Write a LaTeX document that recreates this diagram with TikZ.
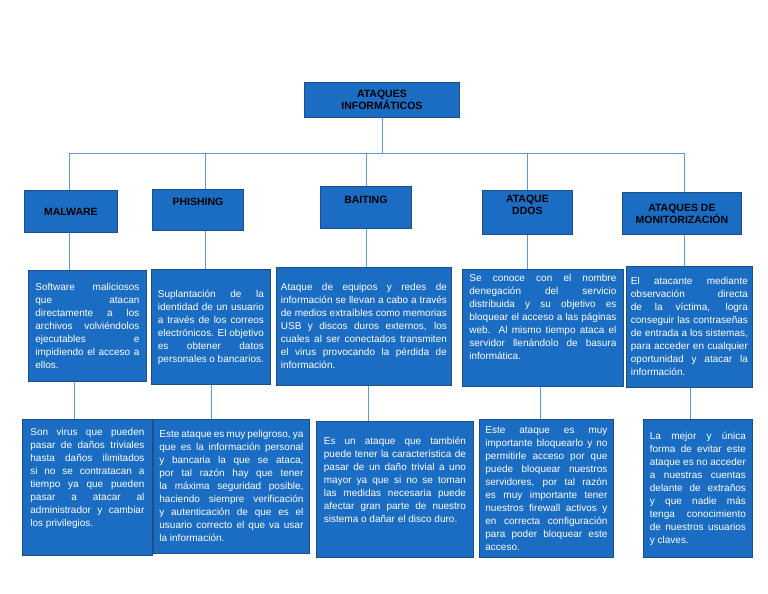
\documentclass[tikz,border=0pt]{standalone}
\usepackage{fontspec}
\setmainfont{Liberation Sans}
\definecolor{boxfill}{HTML}{1A6DC2}
\definecolor{boxdraw}{HTML}{1C4F86}
\definecolor{linec}{HTML}{5C9BD5}
\newcommand{\nohy}{\hyphenpenalty=10000\exhyphenpenalty=10000\emergencystretch=30pt}
\begin{document}
\begin{tikzpicture}[x=1pt,y=-1pt,
  hdr/.style={draw=boxdraw,fill=boxfill,line width=0.8pt,font=\fontsize{10.5}{12}\selectfont\bfseries,text=black,align=center,inner sep=0pt},
  body/.style={draw=boxdraw,fill=boxfill,line width=0.8pt,text=white,font=\fontsize{10}{13}\selectfont\nohy,align=justify,inner sep=0pt},
  conn/.style={draw=linec,line width=0.9pt}]
\useasboundingbox (0,0) rectangle (768,594);
\fill[white] (0,0) rectangle (768,594);
% title
\node[hdr,minimum width=155,minimum height=35,anchor=north west] (t) at (304,82) {ATAQUES\\INFORMÁTICOS};
% headers
\node[hdr,minimum width=93,minimum height=42,anchor=north west] (h1) at (24,190) {MALWARE};
\node[hdr,minimum width=91,minimum height=41,anchor=north west] (h2) at (152,189) {PHISHING\\[4pt]};
\node[hdr,minimum width=91,minimum height=42,anchor=north west] (h3) at (320,186) {BAITING\\[4pt]};
\node[hdr,minimum width=90,minimum height=44,anchor=north west] (h4) at (482,190) {ATAQUE\\DDOS\\[4pt]};
\node[hdr,minimum width=119,minimum height=42,anchor=north west] (h5) at (622,192) {ATAQUES DE\\MONITORIZACIÓN};
% row 1
\node[body,minimum width=118,minimum height=111,anchor=north west,text width=104] (a1) at (28,270) {Software maliciosos que atacan directamente a los archivos volviéndolos ejecutables e impidiendo el acceso a ellos.};
\node[body,minimum width=119,minimum height=115,anchor=north west,text width=106] (b1) at (151,269) {Suplantación de la identidad de un usuario a través de los correos electrónicos. El objetivo es obtener datos personales o bancarios.};
\node[body,minimum width=175,minimum height=118,anchor=north west,text width=166] (c1) at (276,267) {Ataque de equipos y redes de información se llevan a cabo a través de medios extraíbles como memorias USB y discos duros externos, los cuales al ser conectados transmiten el virus provocando la pérdida de información.};
\node[body,minimum width=161,minimum height=117,anchor=north west,text width=147] (d1) at (462,269) {Se conoce con el nombre denegación del servicio distribuida y su objetivo es bloquear el acceso a las páginas web. Al mismo tiempo ataca el servidor llenándolo de basura informática.\\[10pt]};
\node[body,minimum width=126,minimum height=121,anchor=north west,text width=117] (e1) at (626,266) {El atacante mediante observación directa de la víctima, logra conseguir las contraseñas de entrada a los sistemas, para acceder en cualquier oportunidad y atacar la información.};
% row 2
\node[body,minimum width=130,minimum height=136,anchor=north west,text width=114] (a2) at (22,419) {Son virus que pueden pasar de daños triviales hasta daños ilimitados si no se contratacan a tiempo ya que pueden pasar a atacar al administrador y cambiar los privilegios.\\[8pt]};
\node[body,minimum width=156,minimum height=134,anchor=north west,text width=144] (b2) at (153,419) {Este ataque es muy peligroso, ya que es la información personal y bancaria la que se ataca, por tal razón hay que tener la máxima seguridad posible, haciendo siempre verificación y autenticación de que es el usuario correcto el que va usar la información.};
\node[body,minimum width=157,minimum height=136,anchor=north west,text width=142] (c2) at (316,421) {Es un ataque que también puede tener la característica de pasar de un daño trivial a uno mayor ya que si no se toman las medidas necesaria puede afectar gran parte de nuestro sistema o dañar el disco duro.\\[6pt]};
\node[body,minimum width=134,minimum height=138,anchor=north west,text width=122] (d2) at (479,419) {Este ataque es muy importante bloquearlo y no permitirle acceso por que puede bloquear nuestros servidores, por tal razón es muy importante tener nuestros firewall activos y en correcta configuración para poder bloquear este acceso.};
\node[body,minimum width=109,minimum height=138,anchor=north west,text width=96] (e2) at (643,419) {La mejor y única forma de evitar este ataque es no acceder a nuestras cuentas delante de extraños y que nadie más tenga conocimiento de nuestros usuarios y claves.};
% connectors
\coordinate (j) at (382,153);
\coordinate (j1) at (69,153);
\coordinate (j2) at (205,153);
\coordinate (j3) at (366,153);
\coordinate (j4) at (527,153);
\coordinate (j5) at (684,153);
\draw[conn] (t.south -| j) -- (j);
\draw[conn] (j1) -- (j5);
\draw[conn] (j1) -- (j1 |- h1.north);
\draw[conn] (j2) -- (j2 |- h2.north);
\draw[conn] (j3) -- (j3 |- h3.north);
\draw[conn] (j4) -- (j4 |- h4.north);
\draw[conn] (j5) -- (j5 |- h5.north);
\draw[conn] (j1 |- h1.south) -- (j1 |- a1.north);
\draw[conn] (j2 |- h2.south) -- (j2 |- b1.north);
\draw[conn] (j3 |- h3.south) -- (j3 |- c1.north);
\draw[conn] (j4 |- h4.south) -- (j4 |- d1.north);
\draw[conn] (j5 |- h5.south) -- (j5 |- e1.north);
\coordinate (k1) at (74,0);
\coordinate (k2) at (211,0);
\coordinate (k3) at (368,0);
\coordinate (k4) at (540,0);
\coordinate (k5) at (690,0);
\draw[conn] (k1 |- a1.south) -- (k1 |- a2.north);
\draw[conn] (k2 |- b1.south) -- (k2 |- b2.north);
\draw[conn] (k3 |- c1.south) -- (k3 |- c2.north);
\draw[conn] (k4 |- d1.south) -- (k4 |- d2.north);
\draw[conn] (k5 |- e1.south) -- (k5 |- e2.north);
\end{tikzpicture}
\end{document}
